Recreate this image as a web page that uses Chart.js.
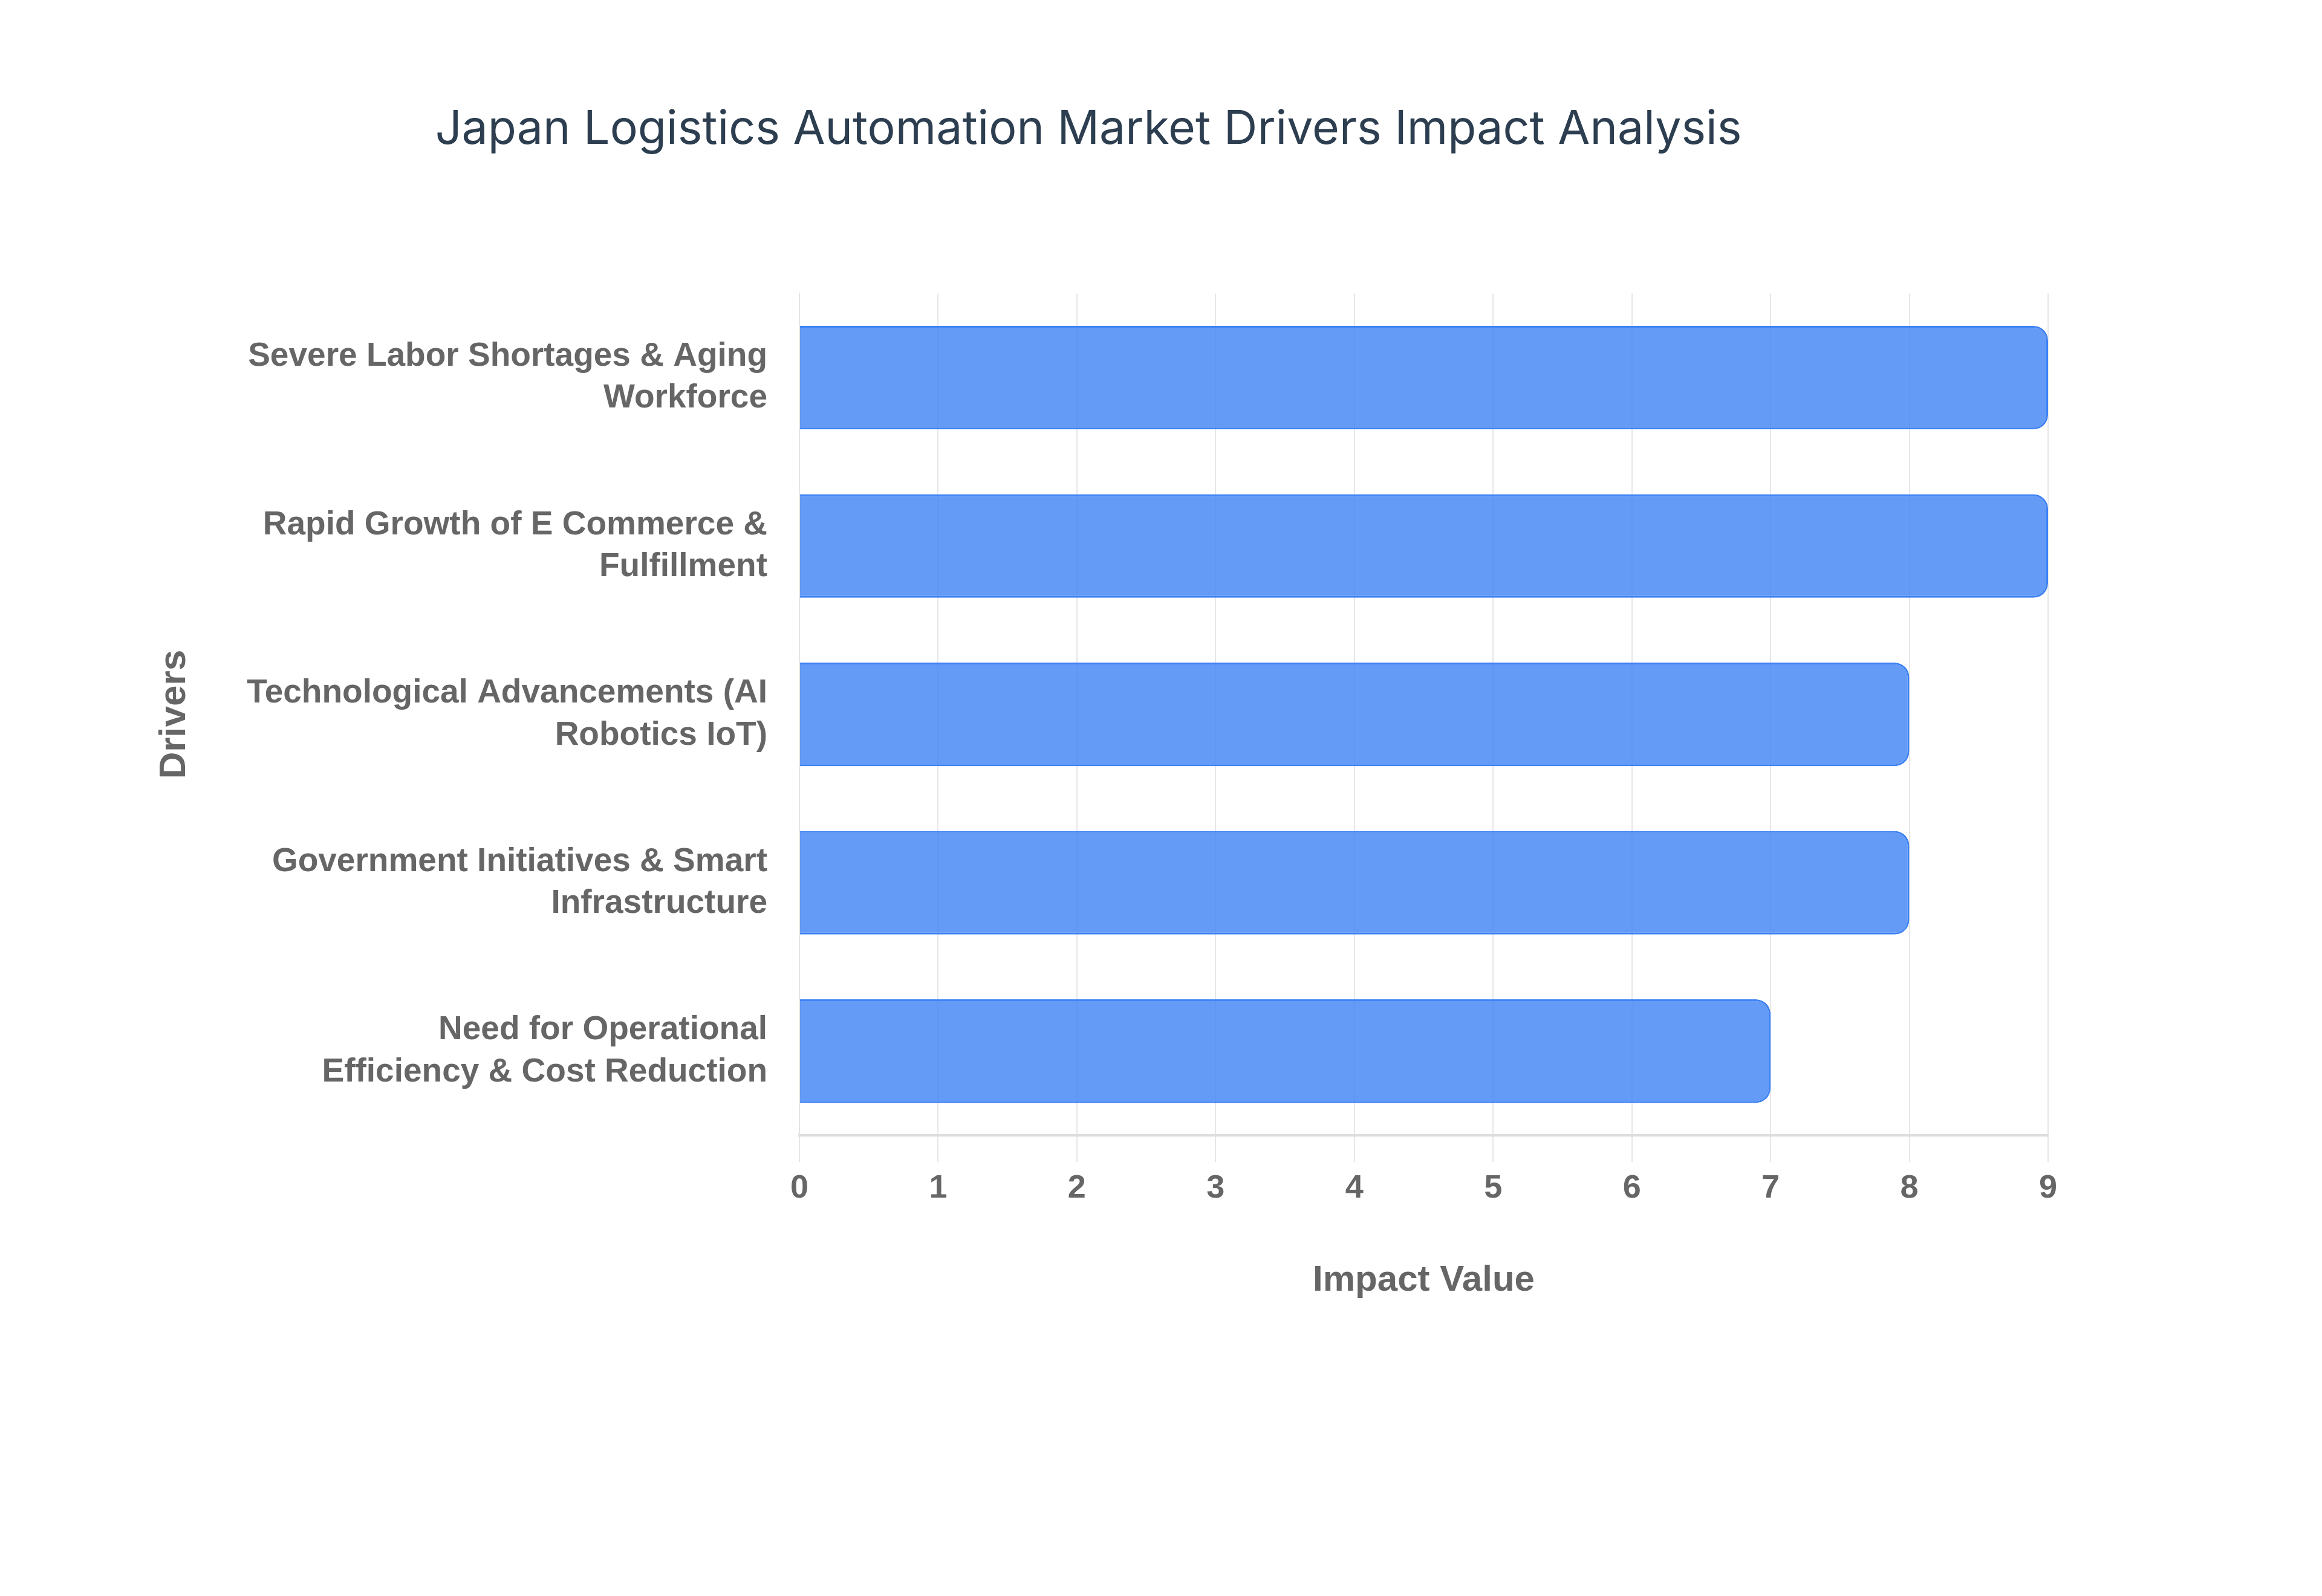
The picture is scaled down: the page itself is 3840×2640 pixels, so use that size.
<!DOCTYPE html>
<html lang="en">
<head>
    <meta charset="UTF-8">
    <title>Japan Logistics Automation Market Drivers Impact Analysis</title>
    <script src="https://cdn.jsdelivr.net/npm/chart.js"></script>
    <style>
        html, body {
            margin: 0;
            padding: 0;
            background: #ffffff;
        }
        #wrap {
            width: 3840px;
            height: 2640px;
            position: relative;
        }
    </style>
</head>
<body>
    <div id="wrap"><canvas id="driversChart"></canvas></div>

    <script>
        // drivers (multi-line labels) and their impact values
        const drivers = [
            ['Severe Labor Shortages & Aging', 'Workforce'],
            ['Rapid Growth of E Commerce &', 'Fulfillment'],
            ['Technological Advancements (AI', 'Robotics IoT)'],
            ['Government Initiatives & Smart', 'Infrastructure'],
            ['Need for Operational', 'Efficiency & Cost Reduction']
        ];
        const impactValues = [9, 9, 8, 8, 7];
        const xTicks = [0, 1, 2, 3, 4, 5, 6, 7, 8, 9];

        const labelFont = 'Liberation Sans, Arial, sans-serif';

        const ctx = document.getElementById('driversChart').getContext('2d');
        const chart = new Chart(ctx, {
            type: 'bar',
            data: {
                labels: drivers,
                datasets: [{
                    label: 'Impact Value',
                    data: impactValues,
                    backgroundColor: 'rgba(66, 133, 244, 0.82)',
                    borderColor: 'rgb(62, 130, 245)',
                    borderWidth: 3,
                    borderRadius: 24,
                    borderSkipped: 'start',
                    barPercentage: 0.615,
                    categoryPercentage: 1
                }]
            },
            options: {
                indexAxis: 'y',
                responsive: true,
                maintainAspectRatio: false,
                devicePixelRatio: 1,
                animation: false,
                layout: {
                    padding: { left: 213, right: 453, top: 0, bottom: 0 }
                },
                plugins: {
                    legend: { display: false },
                    tooltip: { enabled: false },
                    title: {
                        display: true,
                        text: 'Japan Logistics Automation Market Drivers Impact Analysis',
                        color: '#2c3e50',
                        font: { family: 'Inter, sans-serif', size: 77, weight: 'normal', lineHeight: 1.2 },
                        padding: { top: 169, bottom: 224 }
                    }
                },
                scales: {
                    x: {
                        min: 0,
                        max: 9,
                        afterBuildTicks: (scale) => {
                            scale.ticks = xTicks.map(v => ({ value: v }));
                        },
                        afterFit: (scale) => { scale.height = 762; },
                        grid: {
                            color: '#e6e6e6',
                            lineWidth: 2,
                            drawTicks: true,
                            tickLength: 44
                        },
                        border: { display: true, color: '#dddddd', width: 4 },
                        ticks: {
                            color: '#666666',
                            padding: 12,
                            font: { family: labelFont, size: 54, weight: 'bold' }
                        },
                        title: {
                            display: true,
                            text: 'Impact Value',
                            color: '#666666',
                            font: { family: labelFont, size: 60, weight: 'bold', lineHeight: 1.2 },
                            padding: { top: 0, bottom: 486 }
                        }
                    },
                    y: {
                        afterFit: (scale) => { scale.width = 1109; },
                        grid: { display: false, drawTicks: false },
                        border: { display: true, color: '#e4e4e4', width: 2 },
                        ticks: {
                            color: '#666666',
                            padding: 53,
                            font: { family: labelFont, size: 55, weight: 'bold', lineHeight: 1.26 }
                        },
                        title: {
                            display: true,
                            text: 'Drivers',
                            color: '#666666',
                            font: { family: labelFont, size: 62, weight: 'bold', lineHeight: 1.2 },
                            padding: { top: 39, bottom: 0 }
                        }
                    }
                }
            }
        });
    </script>
</body>
</html>
